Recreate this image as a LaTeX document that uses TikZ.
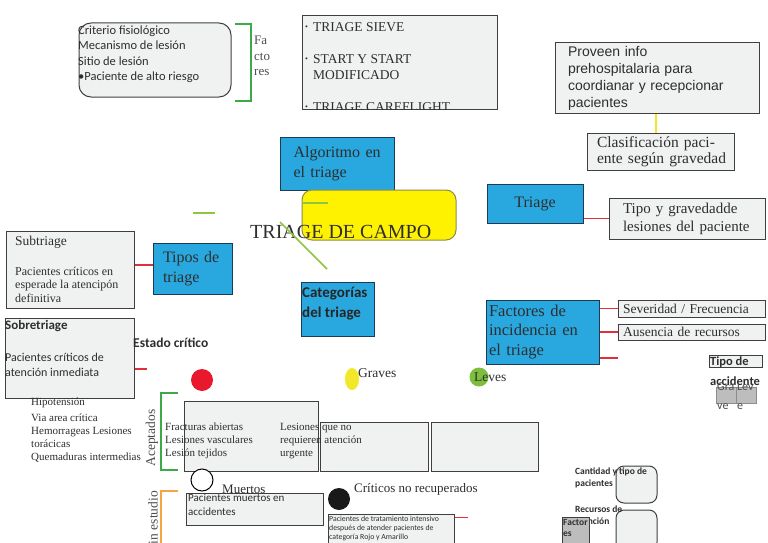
\documentclass[tikz,border=0pt]{standalone}
\usepackage{fontspec}
\setmainfont{Liberation Serif}
\newfontfamily\calibri{Carlito}
\newfontfamily\arial{Liberation Sans}
\usetikzlibrary{shapes.geometric}

\definecolor{fondo}{HTML}{F0F1F1}
\definecolor{borde}{HTML}{3F3F3F}
\definecolor{celeste}{HTML}{29A8E0}
\definecolor{bordeazul}{HTML}{1D3A55}
\definecolor{amarillo}{HTML}{FFF200}
\definecolor{olivo}{HTML}{8C8A4C}
\definecolor{verde}{HTML}{3DAA4A}
\definecolor{verdeclaro}{HTML}{8DC63F}
\definecolor{rojo}{HTML}{E0303A}
\definecolor{rojoc}{HTML}{E8192C}
\definecolor{amarilloc}{HTML}{F2E829}
\definecolor{verdec}{HTML}{7DBE3C}
\definecolor{naranja}{HTML}{F7A541}
\definecolor{tinta}{HTML}{2E2E2E}
\definecolor{grisoscuro}{HTML}{BDBDBD}

\tikzset{
  caja/.style={draw=borde, fill=fondo, line width=1pt, inner sep=0pt, text=tinta},
  azul/.style={draw=bordeazul, fill=celeste, line width=1pt, inner sep=0pt, text=tinta},
  redonda/.style={caja, rounded corners=9pt},
  txt/.style={anchor=north west, inner sep=0pt, align=left, text=tinta},
  suelto/.style={anchor=west, inner sep=0pt, text=tinta},
  enlace/.style={draw=rojo, line width=1.3pt},
  llave/.style={line width=2.2pt},
}

\begin{document}
\begin{tikzpicture}[x=1pt,y=-1pt]

\useasboundingbox (0,0) rectangle (768,543);
\fill[white] (0,0) rectangle (768,543);

% Factores
\node[redonda, rounded corners=12pt, minimum width=152, minimum height=74]
(criterio) at (155,60) {};
\node[txt, font=\calibri\fontsize{12.5}{15.5}\selectfont]
(critxt) at (78,25.5)
{Criterio fisiológico\\Mecanismo de lesión\\Sitio de lesión\\•Paciente de alto riesgo};
\draw[llave, verde]
(235,24) -- (251,24) -- (251,101) -- (235,101);
\node[txt, font=\fontsize{13}{15.5}\selectfont, text=tinta!85]
(factores) at (254,36) {Fa\\cto\\res};

% Algoritmos
\node[caja, minimum width=195, minimum height=93]
(sieve) at (399.5,62.5) {};
\begin{scope}
\clip (sieve.south west) rectangle (sieve.north east);
\node[txt, font=\fontsize{13.5}{15.5}\selectfont]
(sievetxt) at (305,22.5)
{\makebox[8pt][l]{\raisebox{2pt}{\fontsize{8}{8}\selectfont•}}TRIAGE SIEVE\\[16.5pt]
 \makebox[8pt][l]{\raisebox{2pt}{\fontsize{8}{8}\selectfont•}}START Y START\\
 \makebox[8pt][l]{}MODIFICADO\\[16.5pt]
 \makebox[8pt][l]{\raisebox{2pt}{\fontsize{8}{8}\selectfont•}}TRIAGE CAREFLIGHT};
\end{scope}

% Info prehospitalaria
\node[caja, minimum width=204, minimum height=70, text width=178, inner xsep=13, align=left,
  font=\arial\fontsize{14}{17}\selectfont]
(proveen) at (657,78)
{Proveen info\\prehospitalaria para\\coordianar y recepcionar\\pacientes};
\node[caja, minimum width=147, minimum height=37, text width=127, inner xsep=10, align=left,
  font=\fontsize{15.5}{16}\selectfont]
(clasif) at (660.5,151.5)
{Clasificación~paci-\\ente~según~gravedad};
\draw[amarilloc, line width=1.5pt]
([xshift=-4.5pt]clasif.north)
--
([xshift=-4.5pt]clasif.north |- proveen.south);

% Centro
\node[azul, minimum width=114, minimum height=53, text width=87, inner xsep=13.5, align=left,
  font=\fontsize{16}{20}\selectfont]
(algoritmo) at (337,163.5) {Algoritmo~en\\el~triage};
\node[draw=olivo, fill=amarillo, line width=1pt, rounded corners=10pt,
  minimum width=154, minimum height=50]
(centro) at (379,215) {};
\draw[verdeclaro, line width=1.5pt] (302,203) -- (328,203);
\draw[verdeclaro, line width=1.5pt] (193,213) -- (215,213);
\node[suelto, font=\fontsize{20}{24}\selectfont]
(titulo) at (250,232) {TRIAGE DE CAMPO};
\draw[verdeclaro, line width=1.5pt] (280,222) -- (327,269);

% Triage
\node[azul, minimum width=96, minimum height=39, font=\fontsize{16}{20}\selectfont]
(triage) at (535,203.5) {Triage};
\node[caja, minimum width=156, minimum height=41, text width=128, inner xsep=14, align=left,
  font=\fontsize{15}{18}\selectfont]
(tipo) at (687,218.5) {Tipo~y~gravedadde\\lesiones~del~paciente};
\draw[enlace] (tipo.west) -- (tipo.west -| triage.east);

% Tipos de triage
\node[caja, minimum width=128, minimum height=77]
(subtriage) at (70,269.5) {};
\node[txt, font=\fontsize{13.5}{16}\selectfont]
(subtxt) at (15,236) {Subtriage};
\node[txt, font=\fontsize{12}{13.5}\selectfont]
(subdef) at (15,266.6) {Pacientes críticos en\\esperade la atencipón\\definitiva};
\node[azul, minimum width=79, minimum height=51, text width=59, inner xsep=10, align=left,
  font=\fontsize{16}{20}\selectfont]
(tipos) at (192.5,268.5) {Tipos~de\\triage};
\draw[enlace]
([yshift=3.5pt]tipos.west)
--
([yshift=3.5pt]tipos.west -| subtriage.east);

\node[caja, minimum width=129, minimum height=80]
(sobre) at (69.5,358) {};
\node[txt, font=\calibri\bfseries\fontsize{13}{16}\selectfont]
(sobretxt) at (5,320) {Sobretriage};
\node[txt, font=\calibri\fontsize{12}{15}\selectfont]
(sobredef) at (5,352.6) {Pacientes críticos de\\atención inmediata};
\coordinate (sobrefin) at (147,369);
\draw[enlace] (sobre.east |- sobrefin) -- (sobrefin);
\node[suelto, font=\calibri\bfseries\fontsize{13.5}{16}\selectfont]
(estado) at (133,343) {Estado crítico};

% Categorías
\node[azul, minimum width=73, minimum height=54]
(categorias) at (337.5,309) {};
\node[txt, font=\calibri\bfseries\fontsize{15}{20}\selectfont, text=black!85]
(cattxt) at (302,287) {Categorías\\del triage};

% Factores de incidencia
\node[azul, minimum width=113, minimum height=64, text width=107, inner xsep=3, align=left,
  font=\fontsize{16.5}{19.5}\selectfont]
(incidencia) at (542.5,332) {Factores~de\\incidencia~en\\el~triage};
\node[caja, minimum width=147, minimum height=17, text width=137, inner xsep=5, align=left,
  font=\fontsize{13.5}{16}\selectfont]
(severidad) at (691.5,308.5) {Severidad / Frecuencia};
\node[caja, minimum width=147, minimum height=16, text width=137, inner xsep=5, align=left,
  font=\fontsize{13.5}{16}\selectfont]
(ausencia) at (691.5,332) {Ausencia de recursos};
\draw[enlace] (incidencia.east |- severidad.west) -- (severidad.west);
\draw[enlace] (incidencia.east |- ausencia.west) -- (ausencia.west);
\coordinate (incfin) at (618,358);
\draw[enlace] (incidencia.east |- incfin) -- (incfin);

% Tipo de accidente
\node[caja, minimum width=53, minimum height=12]
(accidente) at (735.5,361) {};
\node[draw=borde!60, fill=grisoscuro, minimum width=20, minimum height=16, inner sep=0pt]
(grave) at (726,395) {};
\node[draw=borde!60, fill=grisoscuro, minimum width=20, minimum height=16, inner sep=0pt]
(leve) at (746,395) {};
\node[txt, font=\calibri\bfseries\fontsize{12.5}{20}\selectfont]
(acctxt) at (710,356.5) {Tipo de\\accidente};
\node[txt, font=\calibri\fontsize{12}{19}\selectfont, text=black!70]
(gravetxt) at (717,383) {Gra\\ve};
\node[txt, font=\calibri\fontsize{12}{19}\selectfont, text=black!70]
(levetxt) at (737,383) {Lev\\e};

% Niveles
\node[circle, fill=rojoc, minimum size=22, inner sep=0pt]
(rojo) at (202,380) {};
\node[ellipse, fill=amarilloc, minimum width=14, minimum height=22, inner sep=0pt]
(amar) at (352,379) {};
\node[suelto, font=\fontsize{13.5}{16}\selectfont]
(graves) at (358,373) {Graves};
\node[circle, fill=verdec, minimum size=19, inner sep=0pt]
(verd) at (479,377) {};
\node[suelto, font=\fontsize{13.5}{16}\selectfont]
(leves) at (474,377) {Leves};
\node[txt, font=\fontsize{11}{13}\selectfont]
(signos) at (31,398)
{Hipotensión\\[3pt]Via area crítica\\Hemorrageas Lesiones\\torácicas\\Quemaduras intermedias};

% Aceptados
\draw[llave, verde]
(178,393) -- (161,393) -- (161,470) -- (178,470);
\node[rotate=90, inner sep=0pt, font=\fontsize{13.5}{16}\selectfont, text=tinta!85]
(aceptados) at (152,438) {Aceptados};
\node[caja, minimum width=134, minimum height=70]
(fracturas) at (251,436) {};
\node[caja, minimum width=108, minimum height=49]
(caja2) at (374,446.5) {};
\node[caja, minimum width=107, minimum height=49]
(caja3) at (484.5,446.5) {};
\node[txt, font=\fontsize{11}{13}\selectfont]
(fractxt) at (165,423) {Fracturas abiertas\\Lesiones vasculares\\Lesión tejidos};
\node[txt, font=\fontsize{11}{13}\selectfont]
(nourg) at (280,423) {Lesiones que no\\requieren atención\\urgente};

% Sin estudio
\node[circle, draw=black, fill=white, line width=1pt, minimum size=22, inner sep=0pt]
(muerto) at (202,480) {};
\node[suelto, font=\fontsize{13}{16}\selectfont]
(muertos) at (222,489) {Muertos};
\draw[llave, naranja]
(178,491) -- (161,491) -- (161,560);
\node[rotate=90, anchor=east, inner sep=0pt, font=\fontsize{13.5}{16}\selectfont, text=tinta!85]
(sinestudio) at (153,491) {Sin estudio};
\node[caja, minimum width=137, minimum height=32]
(muertosbox) at (254.5,509) {};
\node[txt, font=\calibri\fontsize{11}{13.5}\selectfont]
(muertostxt) at (188,494) {Pacientes muertos en\\accidentes};
\node[circle, fill=black!90, minimum size=22, inner sep=0pt]
(critico) at (339,499) {};
\node[suelto, font=\fontsize{13}{16}\selectfont]
(criticos) at (354,489) {Críticos no recuperados};
\node[caja, minimum width=126, minimum height=40]
(intensivo) at (391,534) {};
\node[txt, font=\calibri\fontsize{7.8}{9}\selectfont]
(intxt) at (329,515.5)
{Pacientes de tratamiento intensivo\\después de atender pacientes de\\categoría Rojo y Amarillo};
\coordinate (intfin) at (468,517);
\draw[enlace, line width=1pt] (intensivo.east |- intfin) -- (intfin);

% Recursos
\node[redonda, rounded corners=8pt, minimum width=41, minimum height=37]
(cantidad) at (636.5,484.5) {};
\node[redonda, rounded corners=8pt, minimum width=41, minimum height=40]
(recursos) at (636.5,530) {};
\node[txt, font=\calibri\bfseries\fontsize{9.5}{12}\selectfont]
(cantxt) at (575,468) {Cantidad y tipo de\\pacientes};
\node[txt, font=\calibri\bfseries\fontsize{9.5}{12}\selectfont]
(rectxt) at (575,506) {Recursos de\\atención};
\node[draw=borde, fill=grisoscuro, minimum width=27, minimum height=28, inner sep=0pt]
(factorbox) at (575.5,531) {};
\node[txt, font=\calibri\bfseries\fontsize{9.5}{11}\selectfont]
(factortxt) at (563,518.7) {Factor\\es};

\end{tikzpicture}
\end{document}
